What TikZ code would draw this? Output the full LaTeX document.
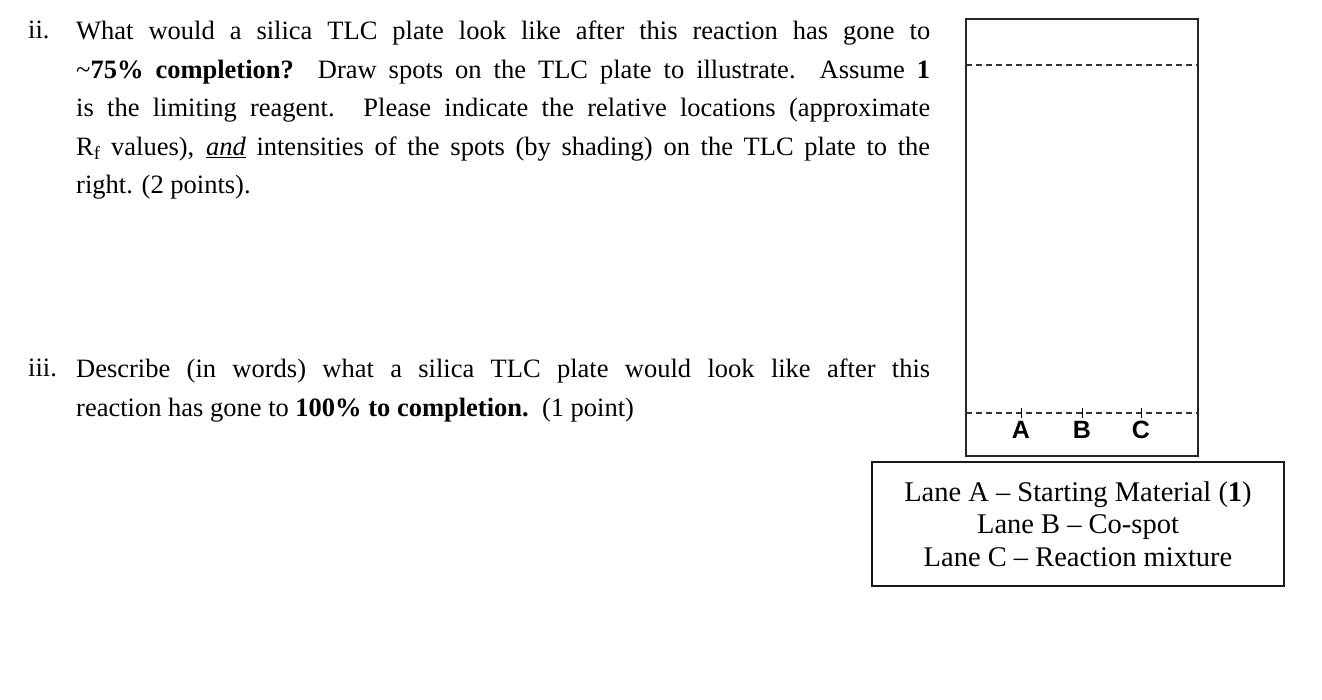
\documentclass[tikz,border=0pt]{standalone}
\usepackage{fontspec}
\setmainfont{Liberation Serif}
\newfontfamily\plainsans{Liberation Sans}
\begin{document}
\begin{tikzpicture}[x=1pt,y=-1pt,
  para/.style={anchor=north west,text width=854pt,align=justify,inner sep=0pt,font=\fontsize{26.5}{38.5}\selectfont},
  lbl/.style={font=\plainsans\bfseries\fontsize{25}{25}\selectfont,inner sep=0pt},
  dsh/.style={dash pattern=on 6pt off 4pt,line width=1.4pt,gray!40!black}]
\useasboundingbox (0,0) rectangle (1322,700);
\node[anchor=north west,inner sep=0pt,font=\fontsize{26.5}{38.5}\selectfont] (n2) at (28,21) {ii.};
\node[para] (p2) at (76,21) {What would a silica TLC plate look like after this reaction has gone to\linebreak
\textasciitilde\textbf{75\% completion?}\ \ Draw spots on the TLC plate to illustrate.\ \ Assume \textbf{1}\linebreak
is the limiting reagent. Please indicate the relative locations (approximate\linebreak
R\textsubscript{f} values), \underline{\textit{and}} intensities of the spots (by shading) on the TLC plate to the\linebreak
right. (2 points).};
\node[anchor=north west,inner sep=0pt,font=\fontsize{26.5}{38.5}\selectfont] (n3) at (28,359) {iii.};
\node[para] (p3) at (76,359) {Describe (in words) what a silica TLC plate would look like after this\linebreak
reaction has gone to \textbf{100\% to completion.}\ \ (1 point)};
% plate
\draw[line width=1.4pt,gray!30!black] (966,19) rectangle (1198,456);
\coordinate (tl) at (966,65); \coordinate (tr) at (1198,65);
\coordinate (bl) at (966,413); \coordinate (br) at (1198,413);
\draw[dsh] (tl) -- (tr);
\draw[dsh] (bl) -- (br);
\foreach \x/\t in {1021/A,1082/B,1141/C}{
  \draw[line width=0.8pt] (\x,408) -- (\x,418);
  \node[lbl] (l\t) at (\x,430) {\t};
}
% legend
\node[draw,line width=1.4pt,gray!20!black,text=black,minimum width=412pt,minimum height=124pt,align=center,
  font=\fontsize{28.5}{32.5}\selectfont] (leg) at (1078,524)
  {Lane A -- Starting Material (\textbf{1})\\Lane B -- Co-spot\\Lane C -- Reaction mixture};
\end{tikzpicture}
\end{document}
